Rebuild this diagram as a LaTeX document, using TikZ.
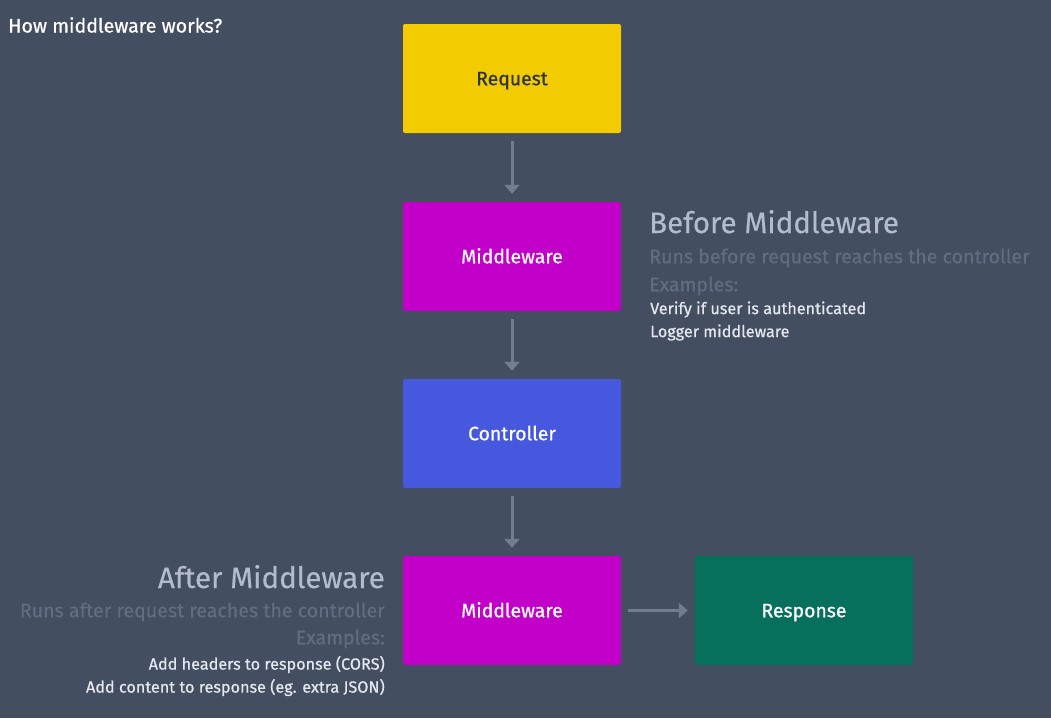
\documentclass[tikz,border=0pt]{standalone}
\usepackage{fontspec}
\setmainfont{Fira Sans}
\newfontfamily\medfont[FakeBold=0.7]{Fira Sans}
\newfontfamily\semfont[FakeBold=0.35]{Fira Sans}
\usetikzlibrary{arrows.meta}
\definecolor{bg}{HTML}{434E61}
\definecolor{yel}{HTML}{F2CC00}
\definecolor{mag}{HTML}{C300C9}
\definecolor{blu}{HTML}{4658DE}
\definecolor{teal}{HTML}{06705C}
\definecolor{arr}{HTML}{737D90}
\definecolor{head}{HTML}{B3BBCE}
\definecolor{sub}{HTML}{636D81}
\definecolor{ex}{HTML}{E4E7EE}
\definecolor{dark}{HTML}{2E3440}
\tikzset{
  box/.style={rounded corners=2pt, minimum width=218pt, minimum height=109pt, inner sep=0pt, text height=13.5pt, text depth=0pt, font=\medfont\fontsize{19.4}{20}\selectfont},
  flow/.style={draw=arr, line width=3pt, -{Triangle[length=9pt,width=15pt]}},
  title/.style={text=head, font=\semfont\fontsize{29.5}{30}\selectfont, inner sep=0pt},
  subt/.style={text=sub, font=\semfont\fontsize{19.6}{20}\selectfont, inner sep=0pt},
  exm/.style={text=ex, font=\medfont\fontsize{16.2}{18}\selectfont, inner sep=0pt},
}
\begin{document}
\begin{tikzpicture}[x=1pt,y=-1pt]
\fill[bg] (0,0) rectangle (1051,718);
\useasboundingbox (0,0) rectangle (1051,718);
\node[anchor=west, text=white, font=\medfont\fontsize{19.6}{20}\selectfont, inner sep=0pt] (ttl) at (8,25) {How middleware works?};
\node[box, fill=yel, text=dark] (req) at (512,78.5) {Request};
\node[box, fill=mag, text=white] (mw1) at (512,256.5) {Middleware};
\node[box, fill=blu, text=white] (ctl) at (512,433.5) {Controller};
\node[box, fill=mag, text=white] (mw2) at (512,610.5) {Middleware};
\node[box, fill=teal, text=white] (res) at (804,610.5) {Response};
\draw[flow, shorten <=8pt, shorten >=8pt] (req) -- (mw1);
\draw[flow, shorten <=8pt, shorten >=8pt] (mw1) -- (ctl);
\draw[flow, shorten <=8pt, shorten >=8pt] (ctl) -- (mw2);
\draw[flow, shorten <=7pt, shorten >=7pt] (mw2) -- (res);
\node[title, anchor=base west] (bt) at (649,233) {Before Middleware};
\node[subt, anchor=west] (bs) at (649,258) {Runs before request reaches the controller};
\node[subt, anchor=west] (be) at (649,286) {Examples:};
\node[exm, anchor=west] (b1) at (650,309.5) {Verify if user is authenticated};
\node[exm, anchor=west] (b2) at (650,332.5) {Logger middleware};
\node[title, anchor=base east] (at) at (385,588) {After Middleware};
\node[subt, anchor=east] (as) at (385,612) {Runs after request reaches the controller};
\node[subt, anchor=east] (ae) at (385,639) {Examples:};
\node[exm, anchor=east] (a1) at (385,664.5) {Add headers to response (CORS)};
\node[exm, anchor=east] (a2) at (385,687.5) {Add content to response (eg. extra JSON)};
\end{tikzpicture}
\end{document}
